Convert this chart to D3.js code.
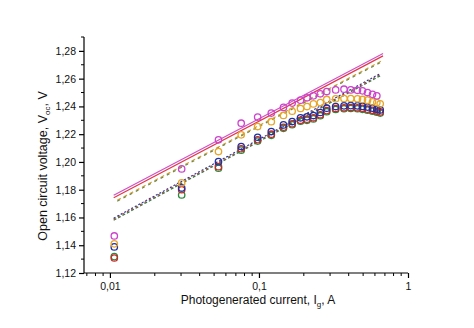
<!DOCTYPE html>
<html><head><meta charset="utf-8">
<script src="https://cdn.jsdelivr.net/npm/d3@7"></script>
<style>body{margin:0;background:#fff}svg{display:block}text{font-family:"Liberation Sans",Arial,sans-serif;fill:#111}</style>
</head><body><div id="c"></div>
<script>
const current = [0.0107,0.0303,0.0535,0.076,0.098,0.121,0.146,0.167,0.19,0.21,0.232,0.258,0.285,0.327,0.372,0.413,0.458,0.495,0.535,0.578,0.618,0.651];
const magenta = [1.1467,1.195,1.2159,1.2279,1.2323,1.2352,1.2393,1.2424,1.2445,1.2462,1.2476,1.2491,1.2507,1.2519,1.2524,1.2519,1.2516,1.2512,1.2500,1.2487,1.2476,null];
const orange  = [1.1410,1.1849,1.2075,1.2195,1.2255,1.2290,1.2335,1.2365,1.2385,1.2399,1.2418,1.2428,1.2450,1.2455,1.2457,1.2457,1.2455,1.2450,1.2445,1.2433,1.2428,1.2419];
const blue    = [1.1388,1.1813,1.2002,1.2111,1.2178,1.2219,1.2267,1.2291,1.2318,1.2325,1.2334,1.2356,1.2387,1.2399,1.2404,1.2406,1.2404,1.2400,1.2395,1.2387,1.2380,1.2375];
const red     = [1.1308,1.1800,1.1966,1.2095,1.2160,1.2200,1.2250,1.2275,1.2300,1.2308,1.2318,1.2340,1.2370,1.2385,1.2390,1.2392,1.2390,1.2386,1.2380,1.2372,1.2365,1.2360];
const green   = [1.1318,1.1762,1.1955,1.2085,1.2150,1.2192,1.2242,1.2268,1.2293,1.2300,1.2310,1.2333,1.2362,1.2378,1.2383,1.2385,1.2383,1.2379,1.2373,1.2365,1.2358,1.2352];
// fitted lines: [start current, end current], [start V, end V]
const fitUpperX = [0.0106,0.68];
const fitMagenta = [1.1760,1.2781];
const fitRed = [1.1742,1.2764];
const fitMidX = [0.0112,0.68];
const fitOrange = [1.1724,1.2733];
const fitOlive = [1.1717,1.2726];
const fitLowX = [0.0106,0.65];
const fitBlue = [1.1595,1.2636];
const fitRedLow = [1.1588,1.2628];
const fitGreenLow = [1.1580,1.2620];
const yTicks = [1.12,1.14,1.16,1.18,1.20,1.22,1.24,1.26,1.28];
const xTicks = [0.01,0.1,1];

const W=474,H=328;
const svg=d3.select("#c").append("svg").attr("width",W).attr("height",H);
const x=d3.scaleLog().domain([0.0067,1]).range([84,408]);
const y=d3.scaleLinear().domain([1.12,1.29]).range([273,37]);
const fmt=v=>String(v).replace(".",",");
const yfmt=v=>v.toFixed(2).replace(".",",");

// axes
const yAxis=d3.axisLeft(y).tickValues(yTicks).tickFormat(yfmt).tickSize(5).tickPadding(3);
const gy=svg.append("g").attr("transform","translate(84,0)").call(yAxis);
gy.select(".domain").attr("d","M0,37V273");
const yMinor=d3.range(1.13,1.29,0.02);
gy.selectAll(".mn").data(yMinor).join("line").attr("class","mn").attr("x1",-3).attr("x2",0).attr("y1",d=>y(d)).attr("y2",d=>y(d)).attr("stroke","#000");
const xAxis=d3.axisBottom(x).tickValues(xTicks).tickFormat(fmt).tickSize(5).tickPadding(5);
const gx=svg.append("g").attr("transform","translate(0,273)").call(xAxis);
gx.select(".domain").attr("d","M84,0H408");
const xMinor=[0.007,0.008,0.009,0.02,0.03,0.04,0.05,0.06,0.07,0.08,0.09,0.2,0.3,0.4,0.5,0.6,0.7,0.8,0.9];
gx.selectAll(".mn").data(xMinor).join("line").attr("class","mn").attr("x1",d=>x(d)).attr("x2",d=>x(d)).attr("y1",0).attr("y2",3).attr("stroke","#000");
svg.selectAll(".tick text").style("font-size","10.5px").style("font-family","Liberation Sans, Arial, sans-serif");
svg.selectAll(".domain,.tick line").attr("stroke","#000").attr("stroke-width",1.2);

// fit lines
const lines=[
 {xs:fitUpperX,ys:fitRed,c:"#e03848",d:null},
 {xs:fitUpperX,ys:fitMagenta,c:"#d050c8",d:null},
 {xs:fitMidX,ys:fitOrange,c:"#e0a030",d:"4,3"},
 {xs:fitMidX,ys:fitOlive,c:"#6a8a50",d:"3,4"},
 {xs:fitLowX,ys:fitBlue,c:"#2a3aa0",d:"2,2"},
 {xs:fitLowX,ys:fitRedLow,c:"#c03040",d:"2,3"},
 {xs:fitLowX,ys:fitGreenLow,c:"#3a7a40",d:"3,2"}
];
lines.forEach(l=>{
 svg.append("line").attr("x1",x(l.xs[0])).attr("x2",x(l.xs[1])).attr("y1",y(l.ys[0])).attr("y2",y(l.ys[1]))
  .attr("stroke",l.c).attr("stroke-width",1.2).attr("stroke-dasharray",l.d);
});

// points
const series=[
 {v:green,c:"#2a8a3a"},{v:red,c:"#c82828"},{v:blue,c:"#2030a0"},{v:orange,c:"#e8a528"},{v:magenta,c:"#cc44cc"}
];
series.forEach(s=>{
 svg.append("g").selectAll("circle").data(current.map((c,i)=>[c,s.v[i]]).filter(d=>d[1]!=null))
  .join("circle").attr("cx",d=>x(d[0])).attr("cy",d=>y(d[1])).attr("r",3.2)
  .attr("fill","none").attr("stroke",s.c).attr("stroke-width",1.3);
});

// titles
const xt=svg.append("text").attr("x",258).attr("y",304).attr("text-anchor","middle").style("font-size","12px");
xt.append("tspan").text("Photogenerated current, I");
xt.append("tspan").attr("dy",3).style("font-size","8px").text("g");
xt.append("tspan").attr("dy",-3).text(", A");
const yt=svg.append("text").attr("transform","translate(47,166) rotate(-90)").attr("text-anchor","middle").style("font-size","12.5px");
yt.append("tspan").text("Open circuit voltage, V");
yt.append("tspan").attr("dy",3).style("font-size","8px").text("oc");
yt.append("tspan").attr("dy",-3).text(", V");
</script></body></html>
